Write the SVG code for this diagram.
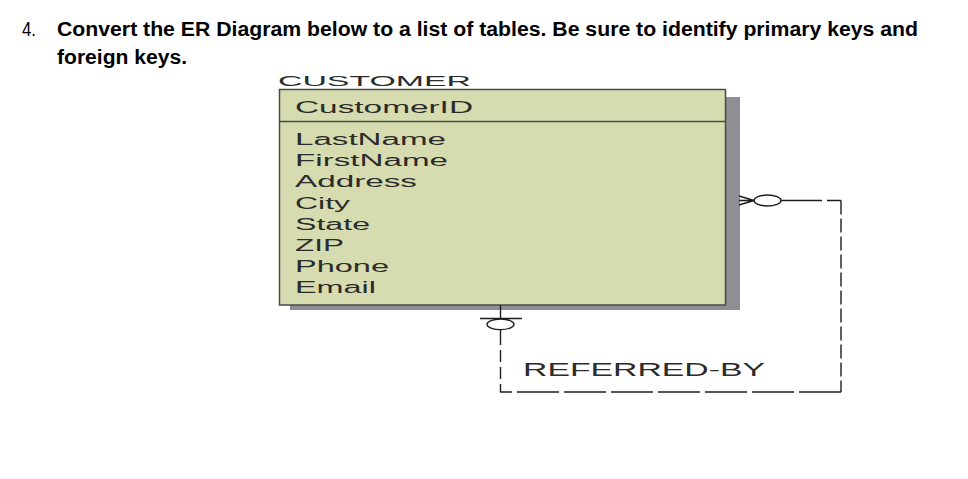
<svg xmlns="http://www.w3.org/2000/svg" width="968" height="479" viewBox="0 0 968 479">
<style>
.q{font-family:"Liberation Sans",Arial,sans-serif;font-size:20px;fill:#000}
.qb{font-weight:bold}
.t{font-family:"Liberation Sans",Arial,sans-serif;fill:#2b2b2b}
.a{font-size:16px}
.ln{stroke:#1e1e1e;stroke-width:1.4;fill:none}
</style>
<rect width="968" height="479" fill="#fff"/>
<g id="question">
<text class="q" x="22" y="36" textLength="14" lengthAdjust="spacingAndGlyphs" fill="#222">4.</text>
<text class="q qb" x="57" y="36" textLength="861" lengthAdjust="spacingAndGlyphs">Convert the ER Diagram below to a list of tables. Be sure to identify primary keys and</text>
<text class="q qb" x="57" y="64" textLength="130" lengthAdjust="spacingAndGlyphs">foreign keys.</text>
</g>
<g id="customer">
<text class="t" x="278" y="86" font-size="15.5" textLength="193" lengthAdjust="spacingAndGlyphs">CUSTOMER</text>
<rect x="290" y="97" width="450" height="213" fill="#8e8e95"/>
<rect x="279.5" y="89.5" width="446" height="215.5" fill="#d6dcb0" stroke="#4a4a4a" stroke-width="1.5"/>
<line x1="279.5" y1="121.5" x2="725.5" y2="121.5" stroke="#4a4a4a" stroke-width="1.3"/>
<text class="t a" x="295" y="113" textLength="178" lengthAdjust="spacingAndGlyphs">CustomerID</text>
<text class="t a" x="295" y="145" textLength="151" lengthAdjust="spacingAndGlyphs">LastName</text>
<text class="t a" x="295" y="166" textLength="153" lengthAdjust="spacingAndGlyphs">FirstName</text>
<text class="t a" x="295" y="187" textLength="122" lengthAdjust="spacingAndGlyphs">Address</text>
<text class="t a" x="295" y="209" textLength="55" lengthAdjust="spacingAndGlyphs">City</text>
<text class="t a" x="295" y="230" textLength="75" lengthAdjust="spacingAndGlyphs">State</text>
<text class="t a" x="295" y="251" textLength="49" lengthAdjust="spacingAndGlyphs">ZIP</text>
<text class="t a" x="295" y="272" textLength="94" lengthAdjust="spacingAndGlyphs">Phone</text>
<text class="t a" x="295" y="293" textLength="81" lengthAdjust="spacingAndGlyphs">Email</text>
</g>
<g id="connectors">
<path class="ln" d="M739,196 L754,200.5 M739,200.5 L754,200.5 M739,205 L754,200.5"/>
<ellipse class="ln" cx="767.5" cy="200.5" rx="13.5" ry="5.5"/>
<path class="ln" d="M781,200.5 H822 M827,200.5 H841"/>
<path class="ln" d="M841,200.5 V392" stroke-dasharray="14 4"/>
<path class="ln" d="M841,392 H500" stroke-dasharray="42 5"/>
<path class="ln" d="M500.5,305 V318.5 M480,318.5 H522"/>
<ellipse class="ln" cx="500.5" cy="324.3" rx="13.5" ry="5.3"/>
<path class="ln" d="M500.5,329.6 V345"/>
<path class="ln" d="M500.5,350 V392" stroke-dasharray="12 5"/>
<text class="t" x="523" y="376" font-size="18.5" textLength="242" lengthAdjust="spacingAndGlyphs">REFERRED-BY</text>
</g>
</svg>
